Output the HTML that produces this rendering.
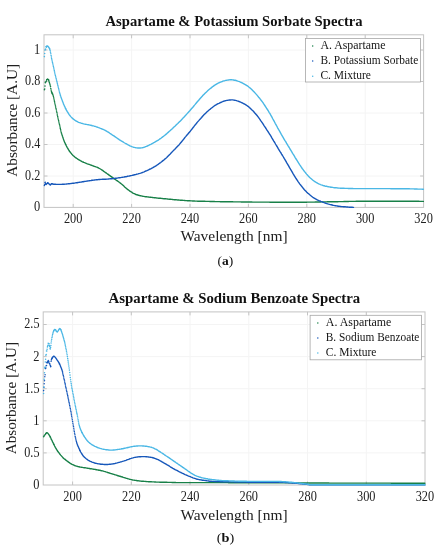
<!DOCTYPE html>
<html><head><meta charset="utf-8"><title>Spectra</title>
<style>
html,body{margin:0;padding:0;background:#fff}
svg{display:block}
text{font-family:"Liberation Serif","DejaVu Serif",serif;fill:#202020}
.tk{font-size:13.6px}
.ti{font-size:14px;font-weight:bold;fill:#111}
.lb{font-size:14.6px}
.cp{font-size:13.5px;fill:#111}
.lg{font-size:12.2px;fill:#141414}
</style></head><body>
<svg width="439" height="550" viewBox="0 0 439 550"><rect width="439" height="550" fill="#fff"/><g stroke="#f4f4f4" stroke-width="1" fill="none"><line x1="73.2" y1="34.8" x2="73.2" y2="207.4"/><line x1="131.6" y1="34.8" x2="131.6" y2="207.4"/><line x1="190.0" y1="34.8" x2="190.0" y2="207.4"/><line x1="248.4" y1="34.8" x2="248.4" y2="207.4"/><line x1="306.8" y1="34.8" x2="306.8" y2="207.4"/><line x1="365.2" y1="34.8" x2="365.2" y2="207.4"/><line x1="44.0" y1="176.0" x2="423.6" y2="176.0"/><line x1="44.0" y1="144.5" x2="423.6" y2="144.5"/><line x1="44.0" y1="113.0" x2="423.6" y2="113.0"/><line x1="44.0" y1="81.5" x2="423.6" y2="81.5"/><line x1="44.0" y1="50.0" x2="423.6" y2="50.0"/></g><rect x="44.0" y="34.8" width="379.6" height="172.6" fill="none" stroke="#c4c4c4" stroke-width="1"/><g stroke="#c4c4c4" stroke-width="1"><line x1="73.2" y1="207.4" x2="73.2" y2="203.9"/><line x1="73.2" y1="34.8" x2="73.2" y2="38.3"/><line x1="131.6" y1="207.4" x2="131.6" y2="203.9"/><line x1="131.6" y1="34.8" x2="131.6" y2="38.3"/><line x1="190.0" y1="207.4" x2="190.0" y2="203.9"/><line x1="190.0" y1="34.8" x2="190.0" y2="38.3"/><line x1="248.4" y1="207.4" x2="248.4" y2="203.9"/><line x1="248.4" y1="34.8" x2="248.4" y2="38.3"/><line x1="306.8" y1="207.4" x2="306.8" y2="203.9"/><line x1="306.8" y1="34.8" x2="306.8" y2="38.3"/><line x1="365.2" y1="207.4" x2="365.2" y2="203.9"/><line x1="365.2" y1="34.8" x2="365.2" y2="38.3"/><line x1="44.0" y1="176.0" x2="47.5" y2="176.0"/><line x1="423.6" y1="176.0" x2="420.1" y2="176.0"/><line x1="44.0" y1="144.5" x2="47.5" y2="144.5"/><line x1="423.6" y1="144.5" x2="420.1" y2="144.5"/><line x1="44.0" y1="113.0" x2="47.5" y2="113.0"/><line x1="423.6" y1="113.0" x2="420.1" y2="113.0"/><line x1="44.0" y1="81.5" x2="47.5" y2="81.5"/><line x1="423.6" y1="81.5" x2="420.1" y2="81.5"/><line x1="44.0" y1="50.0" x2="47.5" y2="50.0"/><line x1="423.6" y1="50.0" x2="420.1" y2="50.0"/></g><g fill="none" stroke-linejoin="round" stroke-linecap="round"><path d="M46.7 79.8L47.6 78.9L48.5 79.7M51.9 92.8L52.5 93.9M65.6 144.3L66.4 146.0L67.3 147.6L68.2 149.1L69.0 150.5L69.9 151.8L70.8 152.9L71.7 154.0L72.5 154.9L73.4 155.8L74.3 156.6L75.1 157.3L76.0 157.9L76.9 158.5L77.8 159.1L78.6 159.6L79.5 160.2L80.4 160.7L81.2 161.1L82.1 161.6L83.0 162.0L83.8 162.4L84.7 162.7L85.6 163.1L86.4 163.4L87.3 163.8L88.2 164.1L89.1 164.4L89.9 164.7L90.8 165.0L91.7 165.3L92.5 165.7L93.4 166.0L94.3 166.3L95.2 166.6L96.0 166.9L96.9 167.2L97.8 167.6L98.6 168.0L99.5 168.5L100.4 169.0L101.2 169.5L102.1 170.1L103.0 170.7L103.8 171.4L104.7 172.0L105.6 172.6L106.5 173.2L107.3 173.8L108.2 174.4L109.1 175.1L109.9 175.7L110.8 176.3L111.7 176.9L112.5 177.6L113.4 178.2L114.3 178.8L115.2 179.4L116.0 180.0L116.9 180.6L117.8 181.2L118.6 181.8L119.5 182.5L120.4 183.1L121.2 183.8L122.1 184.5L123.0 185.3L123.9 186.1L124.7 187.0L125.6 187.7L126.5 188.5L127.3 189.2L128.2 189.8L129.1 190.5L129.9 191.1L130.8 191.7L131.7 192.2L132.6 192.8L133.4 193.3L134.3 193.7L135.2 194.1L136.0 194.5L136.9 194.8L137.8 195.0L138.7 195.3L139.5 195.5L140.4 195.7L141.3 195.9L142.1 196.1L143.0 196.3L143.9 196.4L144.7 196.6L145.6 196.7L146.5 196.8L147.3 196.9L148.2 197.0L149.1 197.1L150.0 197.2L150.8 197.3L151.7 197.4L152.6 197.5L153.4 197.6L154.3 197.7L155.2 197.8L156.0 197.9L156.9 198.0L157.8 198.1L158.7 198.2L159.5 198.2L160.4 198.3L161.3 198.4L162.1 198.5L163.0 198.6L163.9 198.7L164.8 198.8L165.6 198.8L166.5 198.9L167.4 199.0L168.2 199.1L169.1 199.2L170.0 199.3L170.8 199.3L171.7 199.4L172.6 199.5L173.4 199.6L174.3 199.7L175.2 199.7L176.1 199.8L176.9 199.9L177.8 200.0L178.7 200.0L179.5 200.1L180.4 200.2L181.3 200.2L182.2 200.3L183.0 200.4L183.9 200.4L184.8 200.5L185.6 200.6L186.5 200.6L187.4 200.7L188.2 200.7L189.1 200.8L190.0 200.8L190.8 200.9L191.7 200.9L192.6 201.0L193.5 201.0L194.3 201.0L195.2 201.1L196.1 201.1L196.9 201.1L197.8 201.2L198.7 201.2L199.5 201.2L200.4 201.2L201.3 201.3L202.2 201.3L203.0 201.3L203.9 201.3L204.8 201.3L205.6 201.4L206.5 201.4L207.4 201.4L208.2 201.4L209.1 201.4L210.0 201.5L210.9 201.5L211.7 201.5L212.6 201.5L213.5 201.5L214.3 201.5L215.2 201.6L216.1 201.6L216.9 201.6L217.8 201.6L218.7 201.6L219.6 201.6L220.4 201.7L221.3 201.7L222.2 201.7L223.0 201.7L223.9 201.7L224.8 201.7L225.7 201.7L226.5 201.8L227.4 201.8L228.3 201.8L229.1 201.8L230.0 201.8L230.9 201.8L231.7 201.8L232.6 201.8L233.5 201.9L234.3 201.9L235.2 201.9L236.1 201.9L237.0 201.9L237.8 201.9L238.7 201.9L239.6 201.9L240.4 201.9L241.3 202.0L242.2 202.0L243.0 202.0L243.9 202.0L244.8 202.0L245.7 202.0L246.5 202.0L247.4 202.0L248.3 202.0L249.1 202.0L250.0 202.0L250.9 202.0L251.8 202.0L252.6 202.1L253.5 202.1L254.4 202.1L255.2 202.1L256.1 202.1L257.0 202.1L257.8 202.1L258.7 202.1L259.6 202.1L260.4 202.1L261.3 202.1L262.2 202.1L263.1 202.1L263.9 202.1L264.8 202.1L265.7 202.1L266.5 202.1L267.4 202.1L268.3 202.1L269.1 202.1L270.0 202.2L270.9 202.2L271.8 202.2L272.6 202.2L273.5 202.2L274.4 202.2L275.2 202.2L276.1 202.2L277.0 202.2L277.8 202.2L278.7 202.2L279.6 202.2L280.5 202.2L281.3 202.2L282.2 202.2L283.1 202.2L283.9 202.2L284.8 202.2L285.7 202.2L286.5 202.2L287.4 202.2L288.3 202.2L289.2 202.2L290.0 202.2L290.9 202.2L291.8 202.2L292.6 202.2L293.5 202.2L294.4 202.2L295.2 202.2L296.1 202.2L297.0 202.2L297.9 202.2L298.7 202.2L299.6 202.2L300.5 202.2L301.3 202.2L302.2 202.2L303.1 202.2L303.9 202.2L304.8 202.2L305.7 202.2L306.6 202.2L307.4 202.1L308.3 202.1L309.2 202.1L310.0 202.1L310.9 202.1L311.8 202.1L312.6 202.1L313.5 202.1L314.4 202.1L315.3 202.0L316.1 202.0L317.0 202.0L317.9 202.0L318.7 202.0L319.6 202.0L320.5 202.0L321.3 201.9L322.2 201.9L323.1 201.9L324.0 201.9L324.8 201.9L325.7 201.9L326.6 201.9L327.4 201.8L328.3 201.8L329.2 201.8L330.0 201.8L330.9 201.8L331.8 201.8L332.7 201.8L333.5 201.7L334.4 201.7L335.3 201.7L336.1 201.7L337.0 201.7L337.9 201.7L338.7 201.6L339.6 201.6L340.5 201.6L341.4 201.6L342.2 201.6L343.1 201.6L344.0 201.5L344.8 201.5L345.7 201.5L346.6 201.5L347.4 201.5L348.3 201.5L349.2 201.4L350.1 201.4L350.9 201.4L351.8 201.4L352.7 201.4L353.5 201.4L354.4 201.4L355.3 201.4L356.1 201.3L357.0 201.3L357.9 201.3L358.8 201.3L359.6 201.3L360.5 201.3L361.4 201.3L362.2 201.3L363.1 201.3L364.0 201.3L364.8 201.3L365.7 201.3L366.6 201.3L367.5 201.3L368.3 201.2L369.2 201.2L370.1 201.2L370.9 201.2L371.8 201.2L372.7 201.2L373.5 201.2L374.4 201.2L375.3 201.2L376.2 201.2L377.0 201.2L377.9 201.2L378.8 201.2L379.6 201.2L380.5 201.2L381.4 201.2L382.2 201.2L383.1 201.2L384.0 201.2L384.9 201.2L385.7 201.2L386.6 201.2L387.5 201.2L388.3 201.2L389.2 201.2L390.1 201.2L390.9 201.2L391.8 201.2L392.7 201.2L393.6 201.2L394.4 201.2L395.3 201.2L396.2 201.2L397.0 201.2L397.9 201.2L398.8 201.2L399.6 201.2L400.5 201.2L401.4 201.2L402.3 201.2L403.1 201.2L404.0 201.2L404.9 201.2L405.7 201.2L406.6 201.2L407.5 201.2L408.3 201.2L409.2 201.2L410.1 201.3L411.0 201.3L411.8 201.3L412.7 201.3L413.6 201.3L414.4 201.3L415.3 201.3L416.2 201.3L417.0 201.3L417.9 201.3L418.8 201.3L419.7 201.4L420.5 201.4L421.4 201.4L422.3 201.4L423.1 201.4L423.4 201.4" stroke="#188048" stroke-width="1.40"/><path d="M44.4 89.8h0M44.7 88.9h0M45.0 86.1h0M45.3 82.6h0M45.6 82.6h0M45.9 81.7h0M46.1 81.5h0M46.4 81.0h0M46.7 79.8h0M48.5 79.7h0M48.8 80.6h0M49.0 81.5h0M49.3 82.4h0M49.6 83.2h0M49.9 84.2h0M50.2 85.3h0M50.5 86.6h0M50.8 88.4h0M51.1 90.0h0M51.4 91.3h0M51.6 92.1h0M51.9 92.8h0M52.5 93.9h0M52.8 94.6h0M53.1 95.4h0M53.4 96.5h0M53.7 97.7h0M54.0 98.9h0M54.3 100.3h0M54.5 101.6h0M54.8 103.0h0M55.1 104.3h0M55.4 105.7h0M55.7 107.1h0M56.0 108.4h0M56.3 109.8h0M56.6 111.2h0M56.9 112.5h0M57.2 113.9h0M57.4 115.2h0M57.7 116.6h0M58.0 117.9h0M58.3 119.2h0M58.6 120.6h0M58.9 121.9h0M59.2 123.2h0M59.5 124.5h0M59.8 125.8h0M60.1 127.1h0M60.3 128.4h0M60.6 129.6h0M60.9 130.9h0M61.2 132.2h0M61.5 133.3h0M61.8 134.3h0M62.1 135.2h0M62.4 136.1h0M62.7 137.0h0M63.0 137.8h0M63.2 138.6h0M63.5 139.4h0M63.8 140.2h0M64.1 141.0h0M64.4 141.7h0M64.7 142.4h0M65.0 143.1h0M65.3 143.7h0M65.6 144.3h0" stroke="#188048" stroke-width="1.55"/><path d="M51.9 183.8L52.8 184.0L53.7 184.2L54.5 184.3L55.4 184.3L56.3 184.4L57.2 184.4L58.0 184.4L58.9 184.4L59.8 184.4L60.6 184.4L61.5 184.4L62.4 184.3L63.2 184.3L64.1 184.2L65.0 184.1L65.9 184.1L66.7 184.0L67.6 183.9L68.5 183.8L69.3 183.7L70.2 183.6L71.1 183.5L71.9 183.4L72.8 183.3L73.7 183.2L74.6 183.1L75.4 182.9L76.3 182.8L77.2 182.7L78.0 182.5L78.9 182.4L79.8 182.2L80.7 182.1L81.5 182.0L82.4 181.8L83.3 181.7L84.1 181.5L85.0 181.4L85.9 181.3L86.7 181.1L87.6 181.0L88.5 180.9L89.3 180.7L90.2 180.6L91.1 180.5L92.0 180.3L92.8 180.2L93.7 180.1L94.6 180.0L95.4 179.9L96.3 179.8L97.2 179.7L98.0 179.6L98.9 179.5L99.8 179.5L100.7 179.4L101.5 179.4L102.4 179.3L103.3 179.3L104.1 179.3L105.0 179.2L105.9 179.2L106.8 179.1L107.6 179.1L108.5 179.0L109.4 178.9L110.2 178.8L111.1 178.7L112.0 178.7L112.8 178.6L113.7 178.5L114.6 178.4L115.4 178.3L116.3 178.2L117.2 178.1L118.1 177.9L118.9 177.8L119.8 177.7L120.7 177.6L121.5 177.4L122.4 177.3L123.3 177.1L124.2 177.0L125.0 176.8L125.9 176.7L126.8 176.5L127.6 176.3L128.5 176.1L129.4 176.0L130.2 175.8L131.1 175.6L132.0 175.4L132.8 175.2L133.7 175.0L134.6 174.8L135.5 174.6L136.3 174.3L137.2 174.1L138.1 173.9L138.9 173.6L139.8 173.4L140.7 173.1L141.5 172.8L142.4 172.5L143.3 172.2L144.2 171.8L145.0 171.4L145.9 171.0L146.8 170.7L147.6 170.3L148.5 169.9L149.4 169.4L150.2 169.0L151.1 168.6L152.0 168.1L152.9 167.7L153.7 167.2L154.6 166.7L155.5 166.1L156.3 165.6L157.2 165.0L158.1 164.4L158.9 163.8L159.8 163.1L160.7 162.5L161.6 161.8L162.4 161.1L163.3 160.4L164.2 159.7L165.0 158.9L165.9 158.2L166.8 157.4L167.6 156.6L168.5 155.7L169.4 154.8L170.3 153.9L171.1 153.0L172.0 152.1L172.9 151.1L173.7 150.2L174.6 149.4L175.5 148.5L176.3 147.6L177.2 146.7L178.1 145.8L179.0 144.9L179.8 143.9L180.7 142.8L181.6 141.8L182.4 140.7L183.3 139.6L184.2 138.5L185.0 137.4L185.9 136.4L186.8 135.3L187.7 134.3L188.5 133.3L189.4 132.2L190.3 131.2L191.1 130.1L192.0 129.0L192.9 127.8L193.8 126.7L194.6 125.6L195.5 124.5L196.4 123.5L197.2 122.4L198.1 121.4L199.0 120.4L199.8 119.4L200.7 118.5L201.6 117.5L202.4 116.5L203.3 115.5L204.2 114.6L205.1 113.7L205.9 112.9L206.8 112.1L207.7 111.3L208.5 110.5L209.4 109.8L210.3 109.1L211.2 108.3L212.0 107.7L212.9 107.0L213.8 106.3L214.6 105.7L215.5 105.2L216.4 104.7L217.2 104.2L218.1 103.7L219.0 103.3L219.8 102.9L220.7 102.5L221.6 102.1L222.5 101.7L223.3 101.3L224.2 101.0L225.1 100.8L225.9 100.6L226.8 100.4L227.7 100.3L228.5 100.1L229.4 100.0L230.3 100.0L231.2 99.9L232.0 99.9L232.9 99.9L233.8 100.1L234.6 100.2L235.5 100.4L236.4 100.6L237.2 100.9L238.1 101.2L239.0 101.5L239.9 101.8L240.7 102.2L241.6 102.6L242.5 103.0L243.3 103.5L244.2 103.9L245.1 104.4L245.9 104.9L246.8 105.5L247.7 106.1L248.6 106.8L249.4 107.6L250.3 108.3L251.2 109.2L252.0 110.0L252.9 110.8L253.8 111.7L254.6 112.7L255.5 113.7L256.4 114.7L257.3 115.8L258.1 116.9L259.0 118.1L259.9 119.3L260.7 120.6L261.6 121.8L262.5 123.1L263.3 124.4L264.2 125.8L265.1 127.1L266.0 128.5L266.8 129.9L267.7 131.2L268.6 132.5L269.4 133.8L270.3 135.2L271.2 136.6L272.0 138.1L272.9 139.6L273.8 141.1L274.7 142.5L275.5 144.0L276.4 145.5L277.3 146.9L278.1 148.4L279.0 149.8L279.9 151.3L280.8 152.7L281.6 154.1L282.5 155.5L283.4 157.0L284.2 158.4L285.1 159.8L286.0 161.3L286.8 162.8L287.7 164.3L288.6 165.9L289.4 167.4L290.3 168.8L291.2 170.3L292.1 171.8L292.9 173.3L293.8 174.8L294.7 176.3L295.5 177.7L296.4 179.0L297.3 180.3L298.1 181.6L299.0 182.8L299.9 184.1L300.8 185.2L301.6 186.3L302.5 187.4L303.4 188.5L304.2 189.5L305.1 190.4L306.0 191.3L306.8 192.2L307.7 193.1L308.6 193.8L309.5 194.6L310.3 195.3L311.2 196.0L312.1 196.7L312.9 197.3L313.8 197.9L314.7 198.4L315.5 198.9L316.4 199.4L317.3 199.9L318.2 200.3L319.0 200.7L319.9 201.0L320.8 201.4L321.6 201.7L322.5 202.0L323.4 202.4L324.2 202.7L325.1 203.0L326.0 203.3L326.9 203.6L327.7 203.9L328.6 204.1L329.5 204.4L330.3 204.6L331.2 204.8L332.1 205.0L332.9 205.2L333.8 205.4L334.7 205.6L335.6 205.7L336.4 205.9L337.3 206.0L338.2 206.2L339.0 206.3L339.9 206.4L340.8 206.5L341.6 206.6L342.5 206.6L343.4 206.7L344.3 206.8L345.1 206.8L346.0 206.9L346.9 207.0L347.7 207.0L348.6 207.1L349.5 207.2L350.3 207.2L351.2 207.3L352.1 207.3L353.0 207.4L353.5 207.4" stroke="#1657ba" stroke-width="1.40"/><path d="M44.4 185.5h0M44.7 184.6h0M45.0 182.4h0M45.3 182.2h0M45.6 183.7h0M45.9 184.1h0M46.1 184.4h0M46.4 183.9h0M46.7 183.9h0M47.0 183.5h0M47.3 183.2h0M47.6 182.7h0M47.9 182.9h0M48.2 183.0h0M48.5 183.4h0M48.8 183.8h0M49.0 183.9h0M49.3 184.0h0M49.6 184.4h0M49.9 184.8h0M50.2 185.0h0M50.5 184.9h0M50.8 184.4h0M51.1 183.9h0M51.4 183.8h0M51.6 183.8h0M51.9 183.8h0" stroke="#1657ba" stroke-width="1.55"/><path d="M46.7 46.3L47.6 46.0L48.5 47.0L49.3 48.2L49.6 48.8M65.6 108.5L66.4 110.2L67.3 111.7L68.2 113.0L69.0 114.3L69.9 115.5L70.8 116.6L71.7 117.6L72.5 118.4L73.4 119.1L74.3 119.8L75.1 120.4L76.0 121.0L76.9 121.4L77.8 121.9L78.6 122.3L79.5 122.6L80.4 122.9L81.2 123.2L82.1 123.4L83.0 123.7L83.8 123.9L84.7 124.1L85.6 124.3L86.4 124.4L87.3 124.6L88.2 124.7L89.1 124.9L89.9 125.1L90.8 125.3L91.7 125.5L92.5 125.7L93.4 125.9L94.3 126.2L95.2 126.4L96.0 126.7L96.9 127.0L97.8 127.3L98.6 127.6L99.5 127.9L100.4 128.3L101.2 128.6L102.1 129.0L103.0 129.3L103.8 129.7L104.7 130.1L105.6 130.6L106.5 131.1L107.3 131.6L108.2 132.1L109.1 132.7L109.9 133.3L110.8 133.9L111.7 134.5L112.5 135.1L113.4 135.6L114.3 136.2L115.2 136.8L116.0 137.4L116.9 138.0L117.8 138.6L118.6 139.2L119.5 139.8L120.4 140.3L121.2 140.9L122.1 141.4L123.0 141.9L123.9 142.5L124.7 143.0L125.6 143.5L126.5 143.9L127.3 144.4L128.2 144.9L129.1 145.3L129.9 145.8L130.8 146.2L131.7 146.6L132.6 146.9L133.4 147.2L134.3 147.4L135.2 147.6L136.0 147.8L136.9 147.9L137.8 148.0L138.7 148.0L139.5 148.0L140.4 148.0L141.3 147.9L142.1 147.8L143.0 147.6L143.9 147.3L144.7 147.1L145.6 146.7L146.5 146.4L147.3 146.0L148.2 145.6L149.1 145.2L150.0 144.7L150.8 144.3L151.7 143.8L152.6 143.3L153.4 142.8L154.3 142.4L155.2 141.9L156.0 141.4L156.9 140.9L157.8 140.4L158.7 139.8L159.5 139.2L160.4 138.6L161.3 138.0L162.1 137.3L163.0 136.7L163.9 136.0L164.8 135.3L165.6 134.6L166.5 133.9L167.4 133.1L168.2 132.4L169.1 131.6L170.0 130.8L170.8 130.0L171.7 129.2L172.6 128.4L173.4 127.6L174.3 126.8L175.2 126.0L176.1 125.1L176.9 124.3L177.8 123.5L178.7 122.6L179.5 121.8L180.4 120.9L181.3 120.0L182.2 119.1L183.0 118.1L183.9 117.2L184.8 116.3L185.6 115.3L186.5 114.4L187.4 113.4L188.2 112.5L189.1 111.5L190.0 110.5L190.8 109.5L191.7 108.5L192.6 107.5L193.5 106.5L194.3 105.4L195.2 104.4L196.1 103.3L196.9 102.3L197.8 101.2L198.7 100.2L199.5 99.2L200.4 98.2L201.3 97.2L202.2 96.3L203.0 95.3L203.9 94.4L204.8 93.5L205.6 92.7L206.5 91.9L207.4 91.1L208.2 90.3L209.1 89.5L210.0 88.8L210.9 88.1L211.7 87.4L212.6 86.7L213.5 86.1L214.3 85.4L215.2 84.9L216.1 84.3L216.9 83.8L217.8 83.3L218.7 82.9L219.6 82.5L220.4 82.1L221.3 81.8L222.2 81.5L223.0 81.2L223.9 80.9L224.8 80.7L225.7 80.4L226.5 80.3L227.4 80.1L228.3 80.0L229.1 79.9L230.0 79.8L230.9 79.8L231.7 79.8L232.6 79.9L233.5 80.0L234.3 80.2L235.2 80.3L236.1 80.5L237.0 80.8L237.8 81.1L238.7 81.4L239.6 81.7L240.4 82.1L241.3 82.5L242.2 82.9L243.0 83.3L243.9 83.8L244.8 84.3L245.7 84.8L246.5 85.3L247.4 85.9L248.3 86.5L249.1 87.2L250.0 87.9L250.9 88.7L251.8 89.6L252.6 90.4L253.5 91.3L254.4 92.2L255.2 93.1L256.1 94.1L257.0 95.1L257.8 96.1L258.7 97.2L259.6 98.2L260.4 99.3L261.3 100.5L262.2 101.7L263.1 102.9L263.9 104.2L264.8 105.5L265.7 106.9L266.5 108.2L267.4 109.5L268.3 110.9L269.1 112.3L270.0 113.7L270.9 115.3L271.8 116.9L272.6 118.5L273.5 120.1L274.4 121.7L275.2 123.3L276.1 124.9L277.0 126.5L277.8 128.1L278.7 129.7L279.6 131.2L280.5 132.8L281.3 134.4L282.2 135.9L283.1 137.4L283.9 138.8L284.8 140.3L285.7 141.7L286.5 143.2L287.4 144.6L288.3 146.1L289.2 147.5L290.0 149.0L290.9 150.4L291.8 151.9L292.6 153.3L293.5 154.7L294.4 156.2L295.2 157.6L296.1 159.0L297.0 160.4L297.9 161.8L298.7 163.2L299.6 164.6L300.5 165.9L301.3 167.2L302.2 168.5L303.1 169.7L303.9 170.8L304.8 171.9L305.7 173.0L306.6 174.1L307.4 175.0L308.3 176.0L309.2 176.9L310.0 177.7L310.9 178.5L311.8 179.3L312.6 180.0L313.5 180.6L314.4 181.3L315.3 181.8L316.1 182.4L317.0 182.9L317.9 183.4L318.7 183.8L319.6 184.2L320.5 184.6L321.3 184.9L322.2 185.2L323.1 185.5L324.0 185.7L324.8 186.0L325.7 186.2L326.6 186.3L327.4 186.5L328.3 186.7L329.2 186.9L330.0 187.0L330.9 187.2L331.8 187.3L332.7 187.4L333.5 187.6L334.4 187.7L335.3 187.8L336.1 187.8L337.0 187.9L337.9 188.0L338.7 188.1L339.6 188.1L340.5 188.2L341.4 188.2L342.2 188.3L343.1 188.3L344.0 188.3L344.8 188.4L345.7 188.4L346.6 188.4L347.4 188.4L348.3 188.5L349.2 188.5L350.1 188.5L350.9 188.5L351.8 188.5L352.7 188.5L353.5 188.6L354.4 188.6L355.3 188.6L356.1 188.6L357.0 188.6L357.9 188.6L358.8 188.6L359.6 188.6L360.5 188.6L361.4 188.6L362.2 188.6L363.1 188.6L364.0 188.6L364.8 188.6L365.7 188.6L366.6 188.6L367.5 188.6L368.3 188.6L369.2 188.6L370.1 188.6L370.9 188.6L371.8 188.6L372.7 188.6L373.5 188.6L374.4 188.6L375.3 188.6L376.2 188.6L377.0 188.6L377.9 188.6L378.8 188.6L379.6 188.6L380.5 188.6L381.4 188.6L382.2 188.6L383.1 188.6L384.0 188.6L384.9 188.6L385.7 188.6L386.6 188.6L387.5 188.6L388.3 188.6L389.2 188.6L390.1 188.6L390.9 188.7L391.8 188.7L392.7 188.7L393.6 188.7L394.4 188.7L395.3 188.7L396.2 188.7L397.0 188.7L397.9 188.7L398.8 188.7L399.6 188.7L400.5 188.7L401.4 188.7L402.3 188.7L403.1 188.7L404.0 188.7L404.9 188.8L405.7 188.8L406.6 188.8L407.5 188.8L408.3 188.8L409.2 188.8L410.1 188.9L411.0 188.9L411.8 188.9L412.7 188.9L413.6 188.9L414.4 189.0L415.3 189.0L416.2 189.0L417.0 189.0L417.9 189.1L418.8 189.1L419.7 189.1L420.5 189.1L421.4 189.1L422.3 189.2L423.1 189.2L423.4 189.2" stroke="#4ab7e5" stroke-width="1.40"/><path d="M44.4 56.6h0M44.7 53.4h0M45.0 50.1h0M45.3 49.8h0M45.6 49.0h0M45.9 46.8h0M46.1 46.4h0M46.4 47.3h0M46.7 46.3h0M49.6 48.8h0M49.9 49.7h0M50.2 50.8h0M50.5 52.3h0M50.8 53.8h0M51.1 55.4h0M51.4 56.9h0M51.6 58.4h0M51.9 59.8h0M52.2 61.1h0M52.5 62.5h0M52.8 63.8h0M53.1 65.1h0M53.4 66.5h0M53.7 67.8h0M54.0 69.1h0M54.3 70.4h0M54.5 71.7h0M54.8 73.0h0M55.1 74.2h0M55.4 75.5h0M55.7 76.7h0M56.0 77.9h0M56.3 79.1h0M56.6 80.3h0M56.9 81.5h0M57.2 82.7h0M57.4 83.8h0M57.7 85.0h0M58.0 86.1h0M58.3 87.3h0M58.6 88.5h0M58.9 89.8h0M59.2 91.0h0M59.5 92.2h0M59.8 93.2h0M60.1 94.2h0M60.3 95.2h0M60.6 96.1h0M60.9 96.9h0M61.2 97.8h0M61.5 98.6h0M61.8 99.4h0M62.1 100.2h0M62.4 101.0h0M62.7 101.8h0M63.0 102.5h0M63.2 103.2h0M63.5 104.0h0M63.8 104.7h0M64.1 105.3h0M64.4 106.0h0M64.7 106.6h0M65.0 107.3h0M65.3 107.9h0M65.6 108.5h0" stroke="#4ab7e5" stroke-width="1.55"/></g><g class="tk"><text x="63.9" y="223.0" textLength="18.5" lengthAdjust="spacingAndGlyphs">200</text><text x="122.3" y="223.0" textLength="18.5" lengthAdjust="spacingAndGlyphs">220</text><text x="180.7" y="223.0" textLength="18.5" lengthAdjust="spacingAndGlyphs">240</text><text x="239.1" y="223.0" textLength="18.5" lengthAdjust="spacingAndGlyphs">260</text><text x="297.5" y="223.0" textLength="18.5" lengthAdjust="spacingAndGlyphs">280</text><text x="355.9" y="223.0" textLength="18.5" lengthAdjust="spacingAndGlyphs">300</text><text x="414.3" y="223.0" textLength="18.5" lengthAdjust="spacingAndGlyphs">320</text></g><g class="tk"><text x="34.1" y="211.0" textLength="6.2" lengthAdjust="spacingAndGlyphs">0</text><text x="25.1" y="179.6" textLength="15.2" lengthAdjust="spacingAndGlyphs">0.2</text><text x="25.1" y="148.1" textLength="15.2" lengthAdjust="spacingAndGlyphs">0.4</text><text x="25.1" y="116.6" textLength="15.2" lengthAdjust="spacingAndGlyphs">0.6</text><text x="25.1" y="85.1" textLength="15.2" lengthAdjust="spacingAndGlyphs">0.8</text><text x="34.1" y="53.6" textLength="6.2" lengthAdjust="spacingAndGlyphs">1</text></g><text class="ti" x="105.5" y="26.2" textLength="257.1" lengthAdjust="spacingAndGlyphs">Aspartame &amp; Potassium Sorbate Spectra</text><text class="lb" x="180.4" y="241.4" textLength="107.2" lengthAdjust="spacingAndGlyphs">Wavelength [nm]</text><text class="cp" x="217.6" y="264.6" textLength="15.7" lengthAdjust="spacingAndGlyphs">(<tspan font-weight="bold">a</tspan>)</text><text class="lb" transform="translate(16.6 176.8) rotate(-90)" textLength="112.9" lengthAdjust="spacingAndGlyphs">Absorbance [A.U]</text><rect x="305.4" y="38.5" width="115.0" height="43.5" fill="#fff" stroke="#a6a6a6" stroke-width="0.8"/><circle cx="312.7" cy="46.1" r="0.75" fill="#188048"/><circle cx="312.7" cy="61.1" r="0.75" fill="#1657ba"/><circle cx="312.7" cy="76.2" r="0.75" fill="#4ab7e5"/><text class="lg" x="320.4" y="48.7" textLength="65.1" lengthAdjust="spacingAndGlyphs">A. Aspartame</text><text class="lg" x="320.4" y="63.8" textLength="97.9" lengthAdjust="spacingAndGlyphs">B. Potassium Sorbate</text><text class="lg" x="320.4" y="78.8" textLength="50.6" lengthAdjust="spacingAndGlyphs">C. Mixture</text><g stroke="#f4f4f4" stroke-width="1" fill="none"><line x1="72.6" y1="311.9" x2="72.6" y2="485.0"/><line x1="131.3" y1="311.9" x2="131.3" y2="485.0"/><line x1="190.0" y1="311.9" x2="190.0" y2="485.0"/><line x1="248.8" y1="311.9" x2="248.8" y2="485.0"/><line x1="307.5" y1="311.9" x2="307.5" y2="485.0"/><line x1="366.3" y1="311.9" x2="366.3" y2="485.0"/><line x1="43.2" y1="452.9" x2="425.0" y2="452.9"/><line x1="43.2" y1="420.8" x2="425.0" y2="420.8"/><line x1="43.2" y1="388.7" x2="425.0" y2="388.7"/><line x1="43.2" y1="356.6" x2="425.0" y2="356.6"/><line x1="43.2" y1="324.5" x2="425.0" y2="324.5"/></g><rect x="43.2" y="311.9" width="381.8" height="173.1" fill="none" stroke="#c4c4c4" stroke-width="1"/><g stroke="#c4c4c4" stroke-width="1"><line x1="72.6" y1="485.0" x2="72.6" y2="481.5"/><line x1="72.6" y1="311.9" x2="72.6" y2="315.4"/><line x1="131.3" y1="485.0" x2="131.3" y2="481.5"/><line x1="131.3" y1="311.9" x2="131.3" y2="315.4"/><line x1="190.0" y1="485.0" x2="190.0" y2="481.5"/><line x1="190.0" y1="311.9" x2="190.0" y2="315.4"/><line x1="248.8" y1="485.0" x2="248.8" y2="481.5"/><line x1="248.8" y1="311.9" x2="248.8" y2="315.4"/><line x1="307.5" y1="485.0" x2="307.5" y2="481.5"/><line x1="307.5" y1="311.9" x2="307.5" y2="315.4"/><line x1="366.3" y1="485.0" x2="366.3" y2="481.5"/><line x1="366.3" y1="311.9" x2="366.3" y2="315.4"/><line x1="43.2" y1="452.9" x2="46.7" y2="452.9"/><line x1="425.0" y1="452.9" x2="421.5" y2="452.9"/><line x1="43.2" y1="420.8" x2="46.7" y2="420.8"/><line x1="425.0" y1="420.8" x2="421.5" y2="420.8"/><line x1="43.2" y1="388.7" x2="46.7" y2="388.7"/><line x1="425.0" y1="388.7" x2="421.5" y2="388.7"/><line x1="43.2" y1="356.6" x2="46.7" y2="356.6"/><line x1="425.0" y1="356.6" x2="421.5" y2="356.6"/><line x1="43.2" y1="324.5" x2="46.7" y2="324.5"/><line x1="425.0" y1="324.5" x2="421.5" y2="324.5"/></g><g fill="none" stroke-linejoin="round" stroke-linecap="round"><path d="M45.9 433.4L46.8 432.6L47.7 433.1L48.5 434.1L49.4 435.4L50.3 437.0M53.8 444.3L54.6 446.0L55.5 447.6L56.4 449.1L57.2 450.5L58.1 451.8L59.0 452.9L59.8 454.0L60.7 455.1L61.6 456.1L62.5 457.1L63.3 458.1L64.2 458.8L65.1 459.4L65.9 460.1L66.8 460.8L67.7 461.4L68.5 462.1L69.4 462.7L70.3 463.3L71.2 463.8L72.0 464.3L72.9 464.7L73.8 465.1L74.6 465.5L75.5 465.8L76.4 466.1L77.2 466.3L78.1 466.6L79.0 466.8L79.8 467.0L80.7 467.1L81.6 467.3L82.5 467.4L83.3 467.6L84.2 467.7L85.1 467.8L85.9 467.9L86.8 468.1L87.7 468.2L88.5 468.4L89.4 468.5L90.3 468.7L91.2 468.8L92.0 468.9L92.9 469.1L93.8 469.2L94.6 469.4L95.5 469.5L96.4 469.7L97.2 469.9L98.1 470.0L99.0 470.2L99.9 470.3L100.7 470.5L101.6 470.7L102.5 470.9L103.3 471.1L104.2 471.4L105.1 471.6L105.9 471.9L106.8 472.2L107.7 472.5L108.6 472.7L109.4 473.0L110.3 473.3L111.2 473.6L112.0 473.8L112.9 474.1L113.8 474.4L114.7 474.7L115.5 474.9L116.4 475.2L117.3 475.5L118.1 475.8L119.0 476.0L119.9 476.3L120.7 476.5L121.6 476.8L122.5 477.0L123.3 477.3L124.2 477.6L125.1 477.9L126.0 478.2L126.8 478.4L127.7 478.7L128.6 478.9L129.4 479.2L130.3 479.4L131.2 479.6L132.0 479.8L132.9 480.0L133.8 480.1L134.7 480.3L135.5 480.4L136.4 480.5L137.3 480.7L138.1 480.8L139.0 480.9L139.9 481.0L140.8 481.1L141.6 481.2L142.5 481.2L143.4 481.3L144.2 481.4L145.1 481.4L146.0 481.5L146.8 481.6L147.7 481.6L148.6 481.7L149.4 481.7L150.3 481.8L151.2 481.8L152.1 481.9L152.9 481.9L153.8 481.9L154.7 482.0L155.5 482.0L156.4 482.1L157.3 482.1L158.2 482.1L159.0 482.1L159.9 482.2L160.8 482.2L161.6 482.2L162.5 482.2L163.4 482.3L164.2 482.3L165.1 482.3L166.0 482.3L166.8 482.3L167.7 482.4L168.6 482.4L169.5 482.4L170.3 482.4L171.2 482.4L172.1 482.5L172.9 482.5L173.8 482.5L174.7 482.5L175.5 482.5L176.4 482.6L177.3 482.6L178.2 482.6L179.0 482.6L179.9 482.6L180.8 482.6L181.6 482.6L182.5 482.6L183.4 482.6L184.2 482.6L185.1 482.6L186.0 482.6L186.9 482.6L187.7 482.6L188.6 482.6L189.5 482.6L190.3 482.6L191.2 482.6L192.1 482.6L192.9 482.6L193.8 482.6L194.7 482.6L195.6 482.6L196.4 482.6L197.3 482.6L198.2 482.6L199.0 482.6L199.9 482.6L200.8 482.6L201.6 482.6L202.5 482.6L203.4 482.6L204.3 482.6L205.1 482.6L206.0 482.6L206.9 482.6L207.7 482.6L208.6 482.6L209.5 482.6L210.3 482.6L211.2 482.6L212.1 482.6L213.0 482.6L213.8 482.6L214.7 482.6L215.6 482.6L216.4 482.6L217.3 482.6L218.2 482.6L219.0 482.6L219.9 482.6L220.8 482.6L221.7 482.6L222.5 482.6L223.4 482.6L224.3 482.6L225.1 482.6L226.0 482.6L226.9 482.6L227.7 482.6L228.6 482.7L229.5 482.7L230.4 482.7L231.2 482.7L232.1 482.7L233.0 482.7L233.8 482.7L234.7 482.7L235.6 482.7L236.4 482.7L237.3 482.7L238.2 482.7L239.1 482.7L239.9 482.7L240.8 482.7L241.7 482.7L242.5 482.7L243.4 482.7L244.3 482.7L245.1 482.7L246.0 482.7L246.9 482.7L247.8 482.7L248.6 482.7L249.5 482.7L250.4 482.7L251.2 482.7L252.1 482.7L253.0 482.7L253.8 482.7L254.7 482.7L255.6 482.7L256.5 482.7L257.3 482.7L258.2 482.7L259.1 482.7L259.9 482.7L260.8 482.7L261.7 482.7L262.6 482.7L263.4 482.7L264.3 482.7L265.2 482.7L266.0 482.7L266.9 482.7L267.8 482.7L268.6 482.7L269.5 482.7L270.4 482.7L271.2 482.7L272.1 482.8L273.0 482.8L273.9 482.8L274.7 482.8L275.6 482.8L276.5 482.8L277.3 482.8L278.2 482.8L279.1 482.8L279.9 482.8L280.8 482.8L281.7 482.8L282.6 482.8L283.4 482.8L284.3 482.8L285.2 482.8L286.0 482.8L286.9 482.8L287.8 482.8L288.6 482.9L289.5 482.9L290.4 482.9L291.3 482.9L292.1 482.9L293.0 482.9L293.9 482.9L294.7 482.9L295.6 482.9L296.5 482.9L297.3 482.9L298.2 482.9L299.1 482.9L300.0 482.9L300.8 482.9L301.7 482.9L302.6 482.9L303.4 483.0L304.3 483.0L305.2 483.0L306.1 483.0L306.9 483.0L307.8 483.0L308.7 483.0L309.5 483.0L310.4 483.0L311.3 483.0L312.1 483.0L313.0 483.0L313.9 483.0L314.8 483.0L315.6 483.0L316.5 483.0L317.4 483.0L318.2 483.0L319.1 483.0L320.0 483.0L320.8 483.0L321.7 483.0L322.6 483.0L323.4 483.0L324.3 483.0L325.2 483.0L326.1 483.0L326.9 483.0L327.8 483.0L328.7 483.0L329.5 483.1L330.4 483.1L331.3 483.1L332.1 483.1L333.0 483.1L333.9 483.1L334.8 483.1L335.6 483.1L336.5 483.1L337.4 483.1L338.2 483.1L339.1 483.1L340.0 483.1L340.9 483.1L341.7 483.1L342.6 483.1L343.5 483.1L344.3 483.1L345.2 483.1L346.1 483.1L346.9 483.1L347.8 483.1L348.7 483.1L349.6 483.1L350.4 483.1L351.3 483.1L352.2 483.1L353.0 483.1L353.9 483.1L354.8 483.1L355.6 483.1L356.5 483.1L357.4 483.1L358.2 483.1L359.1 483.1L360.0 483.1L360.9 483.1L361.7 483.1L362.6 483.1L363.5 483.1L364.3 483.1L365.2 483.1L366.1 483.1L366.9 483.1L367.8 483.1L368.7 483.1L369.6 483.1L370.4 483.1L371.3 483.1L372.2 483.1L373.0 483.1L373.9 483.1L374.8 483.1L375.6 483.1L376.5 483.1L377.4 483.1L378.3 483.1L379.1 483.1L380.0 483.1L380.9 483.1L381.7 483.1L382.6 483.1L383.5 483.1L384.4 483.1L385.2 483.1L386.1 483.1L387.0 483.1L387.8 483.1L388.7 483.1L389.6 483.1L390.4 483.1L391.3 483.2L392.2 483.2L393.1 483.2L393.9 483.2L394.8 483.2L395.7 483.2L396.5 483.2L397.4 483.2L398.3 483.2L399.1 483.2L400.0 483.2L400.9 483.2L401.8 483.2L402.6 483.2L403.5 483.2L404.4 483.2L405.2 483.2L406.1 483.2L407.0 483.2L407.8 483.2L408.7 483.2L409.6 483.2L410.4 483.2L411.3 483.2L412.2 483.2L413.1 483.2L413.9 483.2L414.8 483.2L415.7 483.2L416.5 483.2L417.4 483.2L418.3 483.2L419.1 483.2L420.0 483.2L420.9 483.2L421.8 483.2L422.6 483.2L423.5 483.2L424.4 483.2L424.9 483.2" stroke="#188048" stroke-width="1.40"/><path d="M43.6 436.7h0M43.9 436.1h0M44.2 436.0h0M44.5 435.3h0M44.8 434.9h0M45.1 434.8h0M45.3 434.5h0M45.6 433.9h0M45.9 433.4h0M50.3 437.0h0M50.6 437.7h0M50.9 438.3h0M51.1 438.9h0M51.4 439.5h0M51.7 440.0h0M52.0 440.6h0M52.3 441.3h0M52.6 441.9h0M52.9 442.5h0M53.2 443.1h0M53.5 443.7h0M53.8 444.3h0" stroke="#188048" stroke-width="1.55"/><path d="M52.0 358.3L52.9 356.8L53.8 356.2L54.6 356.6L55.5 357.6L56.4 358.8L57.2 360.1L58.1 361.3L59.0 362.8L59.5 363.9M79.8 450.3L80.7 452.0L81.6 453.5L82.5 454.8L83.3 456.0L84.2 456.9L85.1 457.8L85.9 458.5L86.8 459.2L87.7 459.8L88.5 460.3L89.4 460.8L90.3 461.3L91.2 461.7L92.0 462.1L92.9 462.4L93.8 462.7L94.6 463.0L95.5 463.2L96.4 463.4L97.2 463.6L98.1 463.8L99.0 463.9L99.9 464.0L100.7 464.2L101.6 464.3L102.5 464.3L103.3 464.4L104.2 464.5L105.1 464.5L105.9 464.5L106.8 464.5L107.7 464.5L108.6 464.4L109.4 464.3L110.3 464.2L111.2 464.1L112.0 464.0L112.9 463.9L113.8 463.7L114.7 463.6L115.5 463.3L116.4 463.1L117.3 462.9L118.1 462.6L119.0 462.4L119.9 462.2L120.7 461.9L121.6 461.7L122.5 461.4L123.3 461.1L124.2 460.9L125.1 460.6L126.0 460.3L126.8 459.9L127.7 459.6L128.6 459.3L129.4 459.0L130.3 458.7L131.2 458.4L132.0 458.1L132.9 457.9L133.8 457.6L134.7 457.4L135.5 457.3L136.4 457.1L137.3 457.0L138.1 456.9L139.0 456.8L139.9 456.8L140.8 456.7L141.6 456.6L142.5 456.6L143.4 456.6L144.2 456.6L145.1 456.6L146.0 456.7L146.8 456.8L147.7 456.9L148.6 457.0L149.4 457.1L150.3 457.2L151.2 457.4L152.1 457.5L152.9 457.8L153.8 458.0L154.7 458.3L155.5 458.6L156.4 459.0L157.3 459.3L158.2 459.7L159.0 460.2L159.9 460.7L160.8 461.1L161.6 461.6L162.5 462.1L163.4 462.7L164.2 463.2L165.1 463.7L166.0 464.2L166.8 464.7L167.7 465.2L168.6 465.7L169.5 466.2L170.3 466.8L171.2 467.3L172.1 467.8L172.9 468.3L173.8 468.8L174.7 469.3L175.5 469.8L176.4 470.2L177.3 470.7L178.2 471.2L179.0 471.6L179.9 472.0L180.8 472.5L181.6 472.9L182.5 473.3L183.4 473.7L184.2 474.2L185.1 474.6L186.0 474.9L186.9 475.3L187.7 475.7L188.6 476.1L189.5 476.4L190.3 476.7L191.2 477.1L192.1 477.4L192.9 477.8L193.8 478.1L194.7 478.4L195.6 478.7L196.4 479.0L197.3 479.2L198.2 479.4L199.0 479.6L199.9 479.7L200.8 479.9L201.6 480.0L202.5 480.2L203.4 480.3L204.3 480.4L205.1 480.5L206.0 480.6L206.9 480.8L207.7 480.9L208.6 481.0L209.5 481.2L210.3 481.2L211.2 481.3L212.1 481.4L213.0 481.4L213.8 481.4L214.7 481.5L215.6 481.5L216.4 481.5L217.3 481.6L218.2 481.6L219.0 481.6L219.9 481.6L220.8 481.7L221.7 481.7L222.5 481.7L223.4 481.7L224.3 481.7L225.1 481.8L226.0 481.8L226.9 481.8L227.7 481.8L228.6 481.8L229.5 481.9L230.4 481.9L231.2 481.9L232.1 481.9L233.0 481.9L233.8 481.9L234.7 482.0L235.6 482.0L236.4 482.0L237.3 482.0L238.2 482.0L239.1 482.0L239.9 482.1L240.8 482.1L241.7 482.1L242.5 482.1L243.4 482.1L244.3 482.1L245.1 482.1L246.0 482.1L246.9 482.2L247.8 482.2L248.6 482.2L249.5 482.2L250.4 482.2L251.2 482.2L252.1 482.2L253.0 482.2L253.8 482.2L254.7 482.2L255.6 482.2L256.5 482.2L257.3 482.2L258.2 482.2L259.1 482.2L259.9 482.2L260.8 482.2L261.7 482.2L262.6 482.2L263.4 482.2L264.3 482.2L265.2 482.2L266.0 482.2L266.9 482.2L267.8 482.2L268.6 482.2L269.5 482.2L270.4 482.2L271.2 482.2L272.1 482.2L273.0 482.2L273.9 482.2L274.7 482.2L275.6 482.2L276.5 482.2L277.3 482.2L278.2 482.2L279.1 482.2L279.9 482.3L280.8 482.3L281.7 482.3L282.6 482.3L283.4 482.4L284.3 482.4L285.2 482.5L286.0 482.5L286.9 482.6L287.8 482.6L288.6 482.7L289.5 482.8L290.4 482.8L291.3 482.9L292.1 483.0L293.0 483.0L293.9 483.1L294.7 483.2L295.6 483.3L296.5 483.4L297.3 483.4L298.2 483.5L299.1 483.6L300.0 483.7L300.8 483.8L301.7 483.9L302.6 484.0L303.4 484.1L304.3 484.1L305.2 484.2L306.1 484.3L306.9 484.4L307.8 484.5L308.7 484.6L309.5 484.8L310.4 484.8L311.3 484.9L312.1 484.9L313.0 484.9L313.9 484.9L314.8 484.9L315.6 484.9L316.5 484.9L317.4 484.9L318.2 484.9L319.1 484.9L320.0 484.9L320.8 484.9L321.7 484.9L322.6 484.9L323.4 484.9L324.3 484.9L325.2 484.9L326.1 484.9L326.9 484.9L327.8 484.9L328.7 484.9L329.5 484.9L330.4 484.9L331.3 484.9L332.1 484.9L333.0 484.9L333.9 484.9L334.8 484.9L335.6 484.9L336.5 484.9L337.4 484.9L338.2 484.9L339.1 484.9L340.0 484.9L340.9 484.9L341.7 484.9L342.6 484.9L343.5 484.9L344.3 484.9L345.2 484.9L346.1 484.9L346.9 484.9L347.8 484.9L348.7 484.9L349.6 484.9L350.4 484.9L351.3 484.9L352.2 484.9L353.0 484.9L353.9 484.9L354.8 484.9L355.6 484.9L356.5 484.9L357.4 484.9L358.2 484.9L359.1 484.9L360.0 484.9L360.9 484.9L361.7 484.9L362.6 484.9L363.5 484.9L364.3 484.9L365.2 484.9L366.1 484.9L366.9 484.9L367.8 484.9L368.7 484.9L369.6 484.9L370.4 484.9L371.3 484.9L372.2 484.9L373.0 484.9L373.9 484.9L374.8 484.9L375.6 484.9L376.5 484.9L377.4 484.9L378.3 484.9L379.1 484.9L380.0 484.9L380.9 484.9L381.7 484.9L382.6 484.9L383.5 484.9L384.4 484.9L385.2 484.9L386.1 484.9L387.0 484.9L387.8 484.9L388.7 484.9L389.6 484.9L390.4 484.9L391.3 484.9L392.2 484.9L393.1 484.9L393.9 484.9L394.8 484.9L395.7 484.9L396.5 484.9L397.4 484.9L398.3 484.9L399.1 484.9L400.0 484.9L400.9 484.9L401.8 484.9L402.6 484.9L403.5 484.9L404.4 484.9L405.2 484.9L406.1 484.9L407.0 484.9L407.8 484.9L408.7 484.9L409.6 484.9L410.4 484.9L411.3 484.9L412.2 484.9L413.1 484.9L413.9 484.9L414.8 484.9L415.7 484.9L416.5 484.9L417.4 484.9L418.3 484.9L419.1 484.9L420.0 484.9L420.9 484.9L421.8 484.9L422.6 484.9L423.5 484.9L424.4 484.9L424.9 484.9" stroke="#1657ba" stroke-width="1.40"/><path d="M43.6 390.6h0M43.9 387.3h0M44.2 383.7h0M44.5 380.8h0M44.8 376.8h0M45.1 374.7h0M45.3 368.6h0M45.6 368.1h0M45.9 368.1h0M46.2 365.7h0M46.5 365.5h0M46.8 362.4h0M47.1 362.9h0M47.4 361.8h0M47.7 362.2h0M48.0 362.0h0M48.2 360.6h0M48.5 361.1h0M48.8 361.5h0M49.1 363.0h0M49.4 363.4h0M49.7 363.4h0M50.0 364.8h0M50.3 365.4h0M50.6 366.7h0M50.9 366.3h0M51.1 361.3h0M51.4 359.8h0M51.7 359.0h0M52.0 358.3h0M59.5 363.9h0M59.8 364.5h0M60.1 365.2h0M60.4 366.0h0M60.7 366.7h0M61.0 367.5h0M61.3 368.3h0M61.6 369.1h0M61.9 369.8h0M62.2 370.8h0M62.5 371.8h0M62.7 373.0h0M63.0 374.2h0M63.3 375.5h0M63.6 376.8h0M63.9 378.2h0M64.2 379.5h0M64.5 380.8h0M64.8 382.2h0M65.1 383.5h0M65.3 384.8h0M65.6 386.2h0M65.9 387.5h0M66.2 388.8h0M66.5 390.2h0M66.8 391.5h0M67.1 392.9h0M67.4 394.2h0M67.7 395.6h0M68.0 397.0h0M68.2 398.3h0M68.5 399.7h0M68.8 401.1h0M69.1 402.6h0M69.4 404.0h0M69.7 405.5h0M70.0 407.0h0M70.3 408.5h0M70.6 410.0h0M70.9 411.5h0M71.2 413.1h0M71.4 414.7h0M71.7 416.3h0M72.0 418.0h0M72.3 419.7h0M72.6 421.5h0M72.9 423.2h0M73.2 424.9h0M73.5 426.5h0M73.8 428.2h0M74.0 429.9h0M74.3 431.6h0M74.6 433.3h0M74.9 434.8h0M75.2 436.4h0M75.5 437.8h0M75.8 439.1h0M76.1 440.3h0M76.4 441.4h0M76.7 442.4h0M76.9 443.4h0M77.2 444.2h0M77.5 445.0h0M77.8 445.7h0M78.1 446.4h0M78.4 447.1h0M78.7 447.8h0M79.0 448.4h0M79.3 449.1h0M79.6 449.7h0M79.8 450.3h0" stroke="#1657ba" stroke-width="1.55"/><path d="M53.8 330.7L54.6 329.5L55.5 329.7L56.4 331.4L57.2 332.0L58.1 330.8L59.0 329.3L59.8 328.5L60.7 329.5M81.9 432.4L82.8 434.0L83.6 435.5L84.5 436.9L85.4 438.2L86.2 439.4L87.1 440.5L88.0 441.5L88.8 442.3L89.7 443.1L90.6 443.7L91.4 444.3L92.3 444.9L93.2 445.4L94.1 445.9L94.9 446.3L95.8 446.7L96.7 447.1L97.5 447.5L98.4 447.8L99.3 448.1L100.2 448.4L101.0 448.6L101.9 448.9L102.8 449.1L103.6 449.3L104.5 449.4L105.4 449.6L106.2 449.7L107.1 449.8L108.0 449.9L108.8 450.0L109.7 450.1L110.6 450.1L111.5 450.1L112.3 450.1L113.2 450.0L114.1 450.0L114.9 449.9L115.8 449.8L116.7 449.6L117.5 449.5L118.4 449.4L119.3 449.3L120.2 449.1L121.0 449.0L121.9 448.8L122.8 448.7L123.6 448.5L124.5 448.3L125.4 448.1L126.2 447.9L127.1 447.7L128.0 447.5L128.9 447.3L129.7 447.1L130.6 446.9L131.5 446.7L132.3 446.6L133.2 446.4L134.1 446.3L134.9 446.2L135.8 446.1L136.7 446.0L137.6 446.0L138.4 445.9L139.3 445.9L140.2 445.9L141.0 445.9L141.9 445.9L142.8 446.0L143.7 446.0L144.5 446.1L145.4 446.2L146.3 446.3L147.1 446.4L148.0 446.6L148.9 446.7L149.7 446.9L150.6 447.1L151.5 447.3L152.3 447.6L153.2 447.9L154.1 448.3L155.0 448.8L155.8 449.2L156.7 449.7L157.6 450.2L158.4 450.8L159.3 451.3L160.2 451.9L161.0 452.5L161.9 453.0L162.8 453.6L163.7 454.2L164.5 454.8L165.4 455.4L166.3 456.0L167.1 456.5L168.0 457.1L168.9 457.7L169.8 458.3L170.6 458.9L171.5 459.5L172.4 460.1L173.2 460.7L174.1 461.3L175.0 461.9L175.8 462.5L176.7 463.1L177.6 463.7L178.4 464.3L179.3 464.9L180.2 465.5L181.1 466.1L181.9 466.7L182.8 467.3L183.7 467.9L184.5 468.5L185.4 469.1L186.3 469.7L187.1 470.3L188.0 471.0L188.9 471.6L189.8 472.2L190.6 472.8L191.5 473.3L192.4 473.8L193.2 474.4L194.1 474.8L195.0 475.3L195.8 475.7L196.7 476.1L197.6 476.4L198.5 476.7L199.3 477.0L200.2 477.2L201.1 477.5L201.9 477.7L202.8 477.9L203.7 478.1L204.5 478.3L205.4 478.5L206.3 478.7L207.2 478.8L208.0 479.0L208.9 479.2L209.8 479.3L210.6 479.4L211.5 479.5L212.4 479.6L213.2 479.7L214.1 479.8L215.0 479.9L215.9 480.0L216.7 480.1L217.6 480.2L218.5 480.3L219.3 480.4L220.2 480.5L221.1 480.5L221.9 480.6L222.8 480.6L223.7 480.7L224.6 480.7L225.4 480.7L226.3 480.8L227.2 480.8L228.0 480.8L228.9 480.9L229.8 480.9L230.6 480.9L231.5 481.0L232.4 481.0L233.3 481.0L234.1 481.0L235.0 481.1L235.9 481.1L236.7 481.1L237.6 481.1L238.5 481.2L239.3 481.2L240.2 481.2L241.1 481.2L242.0 481.2L242.8 481.3L243.7 481.3L244.6 481.3L245.4 481.3L246.3 481.3L247.2 481.4L248.0 481.4L248.9 481.4L249.8 481.4L250.7 481.4L251.5 481.4L252.4 481.4L253.3 481.4L254.1 481.4L255.0 481.4L255.9 481.4L256.8 481.4L257.6 481.4L258.5 481.4L259.4 481.4L260.2 481.4L261.1 481.4L262.0 481.4L262.8 481.4L263.7 481.4L264.6 481.4L265.4 481.4L266.3 481.4L267.2 481.4L268.1 481.4L268.9 481.4L269.8 481.4L270.7 481.4L271.5 481.4L272.4 481.4L273.3 481.4L274.1 481.4L275.0 481.4L275.9 481.4L276.8 481.4L277.6 481.4L278.5 481.4L279.4 481.5L280.2 481.5L281.1 481.5L282.0 481.6L282.8 481.6L283.7 481.7L284.6 481.7L285.5 481.8L286.3 481.9L287.2 481.9L288.1 482.0L288.9 482.1L289.8 482.2L290.7 482.3L291.6 482.3L292.4 482.4L293.3 482.5L294.2 482.6L295.0 482.7L295.9 482.8L296.8 482.9L297.6 483.0L298.5 483.1L299.4 483.2L300.2 483.3L301.1 483.4L302.0 483.5L302.9 483.7L303.7 483.8L304.6 483.9L305.5 484.0L306.3 484.1L307.2 484.2L308.1 484.3L308.9 484.5L309.8 484.6L310.7 484.6L311.6 484.7L312.4 484.7L313.3 484.7L314.2 484.7L315.0 484.7L315.9 484.7L316.8 484.7L317.6 484.7L318.5 484.7L319.4 484.7L320.3 484.7L321.1 484.7L322.0 484.7L322.9 484.7L323.7 484.7L324.6 484.7L325.5 484.7L326.4 484.7L327.2 484.7L328.1 484.7L329.0 484.7L329.8 484.7L330.7 484.7L331.6 484.7L332.4 484.7L333.3 484.7L334.2 484.7L335.1 484.7L335.9 484.7L336.8 484.7L337.7 484.7L338.5 484.7L339.4 484.7L340.3 484.7L341.1 484.7L342.0 484.7L342.9 484.7L343.8 484.7L344.6 484.7L345.5 484.7L346.4 484.7L347.2 484.7L348.1 484.7L349.0 484.7L349.8 484.7L350.7 484.7L351.6 484.7L352.4 484.7L353.3 484.7L354.2 484.7L355.1 484.7L355.9 484.7L356.8 484.7L357.7 484.7L358.5 484.7L359.4 484.7L360.3 484.7L361.1 484.7L362.0 484.7L362.9 484.7L363.8 484.7L364.6 484.7L365.5 484.7L366.4 484.7L367.2 484.7L368.1 484.7L369.0 484.7L369.9 484.7L370.7 484.7L371.6 484.7L372.5 484.7L373.3 484.7L374.2 484.7L375.1 484.7L375.9 484.7L376.8 484.7L377.7 484.7L378.6 484.7L379.4 484.7L380.3 484.7L381.2 484.7L382.0 484.7L382.9 484.7L383.8 484.7L384.6 484.7L385.5 484.7L386.4 484.7L387.2 484.7L388.1 484.7L389.0 484.7L389.9 484.7L390.7 484.7L391.6 484.7L392.5 484.7L393.3 484.7L394.2 484.7L395.1 484.7L395.9 484.7L396.8 484.7L397.7 484.7L398.6 484.7L399.4 484.7L400.3 484.7L401.2 484.7L402.0 484.7L402.9 484.7L403.8 484.7L404.6 484.7L405.5 484.7L406.4 484.7L407.3 484.7L408.1 484.7L409.0 484.7L409.9 484.7L410.7 484.7L411.6 484.7L412.5 484.7L413.4 484.7L414.2 484.7L415.1 484.7L416.0 484.7L416.8 484.7L417.7 484.7L418.6 484.7L419.4 484.7L420.3 484.7L421.2 484.7L422.1 484.7L422.9 484.7L423.8 484.7L424.7 484.7L424.9 484.7" stroke="#4ab7e5" stroke-width="1.40"/><path d="M43.6 393.5h0M43.9 387.1h0M44.2 379.2h0M44.5 372.8h0M44.8 367.6h0M45.1 366.9h0M45.3 361.9h0M45.6 359.2h0M45.9 355.3h0M46.2 354.4h0M46.5 350.9h0M46.8 351.0h0M47.1 349.2h0M47.4 347.0h0M47.7 346.1h0M48.0 345.2h0M48.2 343.2h0M48.5 343.4h0M48.8 343.8h0M49.1 343.7h0M49.4 345.6h0M49.7 346.6h0M50.0 348.7h0M50.3 348.9h0M50.6 347.4h0M50.9 345.4h0M51.1 342.9h0M51.4 340.9h0M51.7 339.2h0M52.0 337.5h0M52.3 336.0h0M52.6 334.5h0M52.9 333.3h0M53.2 332.3h0M53.5 331.4h0M53.8 330.7h0M60.7 329.5h0M61.0 330.2h0M61.3 331.0h0M61.6 331.8h0M61.9 332.7h0M62.2 333.6h0M62.5 334.4h0M62.7 335.3h0M63.0 336.3h0M63.3 337.2h0M63.6 338.3h0M63.9 339.3h0M64.2 340.4h0M64.5 341.5h0M64.8 342.7h0M65.1 343.9h0M65.3 345.3h0M65.6 346.7h0M65.9 348.2h0M66.2 349.7h0M66.5 351.3h0M66.8 353.0h0M67.1 354.8h0M67.4 356.6h0M67.7 358.4h0M68.0 360.3h0M68.2 362.1h0M68.5 364.0h0M68.8 366.0h0M69.1 368.0h0M69.4 370.1h0M69.7 372.4h0M70.0 375.1h0M70.3 377.6h0M70.6 379.8h0M70.9 381.8h0M71.2 383.6h0M71.4 385.3h0M71.7 386.9h0M72.0 388.5h0M72.3 390.1h0M72.6 391.6h0M72.9 393.2h0M73.2 394.7h0M73.5 396.2h0M73.8 397.8h0M74.0 399.3h0M74.3 400.8h0M74.6 402.3h0M74.9 403.7h0M75.2 405.2h0M75.5 406.6h0M75.8 408.1h0M76.1 409.5h0M76.4 410.9h0M76.7 412.2h0M76.9 413.4h0M77.2 414.7h0M77.5 416.2h0M77.8 417.9h0M78.1 419.7h0M78.4 421.3h0M78.7 422.9h0M79.0 424.2h0M79.3 425.4h0M79.6 426.4h0M79.8 427.4h0M80.1 428.2h0M80.4 429.0h0M80.7 429.8h0M81.0 430.5h0M81.3 431.1h0M81.6 431.8h0M81.9 432.4h0" stroke="#4ab7e5" stroke-width="1.55"/></g><g class="tk"><text x="63.3" y="500.6" textLength="18.5" lengthAdjust="spacingAndGlyphs">200</text><text x="122.1" y="500.6" textLength="18.5" lengthAdjust="spacingAndGlyphs">220</text><text x="180.8" y="500.6" textLength="18.5" lengthAdjust="spacingAndGlyphs">240</text><text x="239.5" y="500.6" textLength="18.5" lengthAdjust="spacingAndGlyphs">260</text><text x="298.3" y="500.6" textLength="18.5" lengthAdjust="spacingAndGlyphs">280</text><text x="357.0" y="500.6" textLength="18.5" lengthAdjust="spacingAndGlyphs">300</text><text x="415.7" y="500.6" textLength="18.5" lengthAdjust="spacingAndGlyphs">320</text></g><g class="tk"><text x="33.3" y="488.9" textLength="6.2" lengthAdjust="spacingAndGlyphs">0</text><text x="24.3" y="456.8" textLength="15.2" lengthAdjust="spacingAndGlyphs">0.5</text><text x="33.3" y="424.7" textLength="6.2" lengthAdjust="spacingAndGlyphs">1</text><text x="24.3" y="392.6" textLength="15.2" lengthAdjust="spacingAndGlyphs">1.5</text><text x="33.3" y="360.5" textLength="6.2" lengthAdjust="spacingAndGlyphs">2</text><text x="24.3" y="328.4" textLength="15.2" lengthAdjust="spacingAndGlyphs">2.5</text></g><text class="ti" x="108.6" y="303.2" textLength="251.6" lengthAdjust="spacingAndGlyphs">Aspartame &amp; Sodium Benzoate Spectra</text><text class="lb" x="180.4" y="519.5" textLength="107.2" lengthAdjust="spacingAndGlyphs">Wavelength [nm]</text><text class="cp" x="216.8" y="542.3" textLength="17.5" lengthAdjust="spacingAndGlyphs">(<tspan font-weight="bold">b</tspan>)</text><text class="lb" transform="translate(16.4 454.2) rotate(-90)" textLength="112.2" lengthAdjust="spacingAndGlyphs">Absorbance [A.U]</text><rect x="310.1" y="315.3" width="111.4" height="44.5" fill="#fff" stroke="#a6a6a6" stroke-width="0.8"/><circle cx="317.8" cy="322.9" r="0.75" fill="#188048"/><circle cx="317.8" cy="338.0" r="0.75" fill="#1657ba"/><circle cx="317.8" cy="353.0" r="0.75" fill="#4ab7e5"/><text class="lg" x="325.8" y="326.0" textLength="65.5" lengthAdjust="spacingAndGlyphs">A. Aspartame</text><text class="lg" x="325.8" y="341.0" textLength="93.6" lengthAdjust="spacingAndGlyphs">B. Sodium Benzoate</text><text class="lg" x="325.8" y="355.6" textLength="50.7" lengthAdjust="spacingAndGlyphs">C. Mixture</text></svg>
</body></html>
